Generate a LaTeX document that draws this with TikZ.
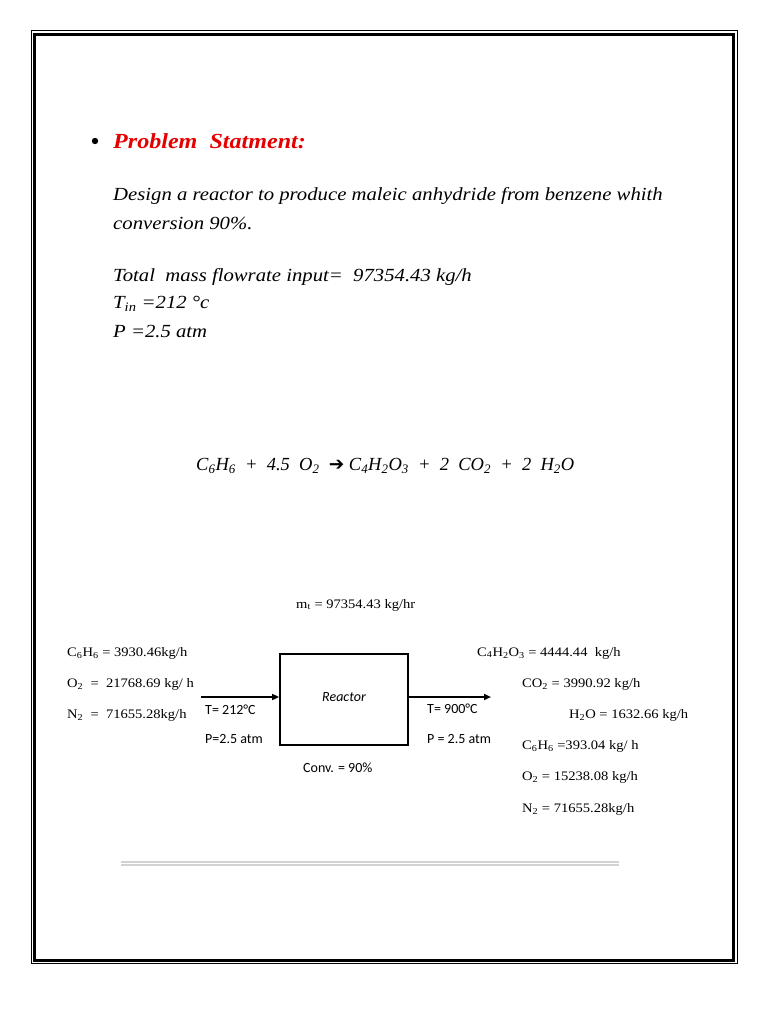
\documentclass[tikz,border=0pt]{standalone}
\usepackage{fontspec}
\setmainfont{Liberation Serif}[FakeStretch=1.12]
\newfontfamily\eqfont{Liberation Serif}
\newfontfamily\calfont{Carlito}
\newfontfamily\djfont{DejaVu Sans}
\usetikzlibrary{arrows.meta}
\newcommand{\sbs}[1]{\textsubscript{#1}}
\tikzset{
  body/.style={anchor=west,inner sep=0pt,font=\fontsize{18.5}{22}\selectfont\itshape},
  lab/.style={anchor=west,inner sep=0pt,font=\fontsize{13}{16}\selectfont},
  cal/.style={anchor=west,inner sep=0pt,font=\fontsize{14}{16}\selectfont\calfont},
  flow/.style={line width=1.8pt,-{Triangle[length=7pt,width=6pt]}}
}
\begin{document}
\begin{tikzpicture}[x=1pt,y=-1pt]
\useasboundingbox (0,0) rectangle (768,1024);
% page border
\draw[line width=1pt] (31,31) rectangle (737,963.5);
\draw[line width=3.5pt] (34.5,34.5) rectangle (733.5,960.5);
% heading
\fill (95,141) circle (3.2);
\node[anchor=west,inner sep=0pt,text=red!90!black,font=\fontsize{21.5}{24}\selectfont\bfseries\itshape] (title) at (113,141) {Problem\ \ Statment:};
\node[body] (d1) at (113,196) {Design a reactor to produce maleic anhydride from benzene whith};
\node[body] (d2) at (113,223) {conversion 90\%.};
\node[body] (d3) at (113,277) {Total\ \ mass flowrate input=\ \ 97354.43 kg/h};
\node[body] (d4) at (113,304) {T\sbs{in} =212 °c};
\node[body] (d5) at (113,332) {P =2.5 atm};
% equation
\node[body,font=\fontsize{18.5}{22}\selectfont\eqfont\itshape] (eq) at (196,466) {C\sbs{6}H\sbs{6}\ \ +\ \ 4.5\ \ O\sbs{2}\ \ {\upshape\djfont ➔}\ C\sbs{4}H\sbs{2}O\sbs{3}\ \ +\ \ 2\ \ CO\sbs{2}\ \ +\ \ 2\ \ H\sbs{2}O};
% diagram
\node[lab] (mt) at (296,605) {m\sbs{t} = 97354.43 kg/hr};
\node[lab] (i1) at (67,653) {C\sbs{6}H\sbs{6} = 3930.46kg/h};
\node[lab] (i2) at (67,684) {O\sbs{2}\ \ =\ \ 21768.69 kg/ h};
\node[lab] (i3) at (67,715) {N\sbs{2}\ \ =\ \ 71655.28kg/h};
\node[draw,line width=1.8pt,minimum width=128pt,minimum height=91pt,inner sep=0pt,font=\fontsize{14}{16}\selectfont\calfont\itshape] (reactor) at (344,699.5) {\raisebox{4pt}{Reactor}};
\coordinate (inS) at (201,697);
\coordinate (outE) at (491,697);
\draw[flow] (inS) -- (inS -| reactor.west);
\draw[flow] (outE -| reactor.east) -- (outE);
\node[cal] (t1) at (205,710) {T= 212°C};
\node[cal] (p1) at (205,739) {P=2.5 atm};
\node[cal] (t2) at (427,709) {T= 900°C};
\node[cal] (p2) at (427,739) {P = 2.5 atm};
\node[cal] (conv) at (303,768) {Conv. = 90\%};
\node[lab] (o1) at (477,653) {C\sbs{4}H\sbs{2}O\sbs{3} = 4444.44\ \ kg/h};
\node[lab] (o2) at (522,684) {CO\sbs{2} = 3990.92 kg/h};
\node[lab] (o3) at (569,715) {H\sbs{2}O = 1632.66 kg/h};
\node[lab] (o4) at (522,746) {C\sbs{6}H\sbs{6} =393.04 kg/ h};
\node[lab] (o5) at (522,777) {O\sbs{2} = 15238.08 kg/h};
\node[lab] (o6) at (522,809) {N\sbs{2} = 71655.28kg/h};
% separator
\draw[gray!35,line width=1.6pt] (121,862) -- (619,862);
\draw[gray!35,line width=1.6pt] (121,865) -- (619,865);
\end{tikzpicture}
\end{document}
